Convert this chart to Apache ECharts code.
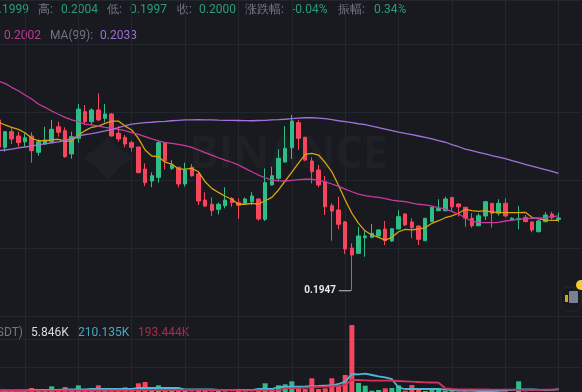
<!DOCTYPE html>
<html>
<head>
<meta charset="utf-8">
<style>
  html, body { margin: 0; padding: 0; background: #181a20; overflow: hidden; width: 582px; height: 392px; }
  /* the chart runs past the window: first candle is cut off left, volume baseline below */
  #chart { position: absolute; left: -5px; top: 0; width: 587px; height: 400px; }
</style>
<script src="https://cdn.jsdelivr.net/npm/echarts@6/dist/echarts.min.js"></script>
</head>
<body>
<div id="chart"></div>
<script>
const opens = [.20721,.2052,.20635,.20603,.20561,.20603,.20483,.20544,.20561,.20671,.20642,.20471,.20586,.20782,.20708,.20794,.20733,.20765,.20623,.20593,.20554,.20522,.2036,.20272,.20299,.20554,.20365,.20373,.2025,.20373,.20324,.20132,.20101,.20064,.2009,.20143,.20113,.20108,.2012,.2014,.1999,.20243,.20292,.20412,.20517,.20701,.20593,.20419,.20353,.20267,.2009,.20059,.19971,.19779,.1974,.19855,.19858,.19868,.19919,.19831,.19919,.20029,.19971,.19941,.19833,.19973,.20054,.20053,.20151,.20103,.20079,.19998,.19943,.20015,.20108,.20035,.20108,.19985,.19988,.20005,.19971,.19899,.19973,.20029,.1999];
const closes = [.20522,.20635,.20581,.20554,.2059,.20495,.20561,.20574,.20652,.2063,.20451,.20598,.20801,.20708,.20794,.20721,.20765,.20603,.20581,.20544,.2052,.20333,.2026,.20311,.20554,.20421,.2039,.2025,.20353,.20311,.20125,.20088,.20054,.20101,.20132,.20113,.20093,.2014,.20162,.19993,.2026,.20311,.20439,.20513,.20713,.20586,.20426,.2034,.20243,.20083,.20051,.19954,.19772,.19728,.19868,.19868,.19887,.19912,.19833,.19921,.2001,.19949,.19929,.19843,.19998,.20079,.2007,.2014,.20082,.20082,.19998,.19943,.20017,.2012,.20035,.20108,.20015,.19998,.19995,.19973,.19912,.19978,.20022,.20002,.2];
const lows = [.20507,.20488,.20544,.20524,.20524,.20407,.20458,.20537,.20549,.20598,.20443,.20436,.20554,.20684,.20684,.20713,.20704,.20598,.20561,.2052,.20488,.20331,.20235,.20226,.2026,.20358,.20353,.20226,.2023,.20304,.20096,.20083,.20015,.20027,.20071,.20083,.19993,.20101,.20096,.1998,.19978,.20239,.20274,.20407,.20434,.205,.20419,.20255,.20226,.20022,.19833,.19917,.19735,.19465,.19735,.19715,.19851,.19862,.19801,.19826,.19917,.19941,.19851,.19801,.19831,.19971,.20051,.20051,.20053,.20011,.19936,.19929,.19941,.19985,.19929,.20017,.20005,.1998,.19917,.19971,.19895,.19895,.19968,.1999,.1997];
const highs = [.20743,.2064,.2066,.20635,.20623,.2063,.20579,.20671,.20721,.20708,.20667,.20635,.20838,.20831,.20807,.20917,.20838,.20772,.20676,.2061,.20568,.20522,.20402,.20336,.20568,.20559,.20426,.20375,.20407,.20397,.2034,.20189,.20152,.20115,.20226,.20152,.20145,.20151,.2019,.20143,.20365,.20377,.20505,.20676,.20757,.20721,.20596,.20446,.2039,.20309,.20108,.20157,.19978,.19814,.19936,.19912,.19956,.19919,.19978,.19924,.20059,.20035,.19998,.19945,.2,.20081,.20138,.20157,.20154,.20108,.20081,.20035,.20035,.20125,.2011,.20138,.20145,.20005,.20088,.20022,.19974,.19985,.20044,.20046,.2004];
const ma7 = [.20706,.20684,.20667,.20652,.20627,.20586,.20568,.20568,.20574,.20579,.20566,.20566,.2061,.20642,.20667,.20676,.20696,.20713,.20713,.20676,.20647,.20586,.205,.20456,.20451,.2041,.20397,.2036,.2036,.20365,.2034,.20267,.20218,.20188,.2016,.20138,.20101,.20101,.20108,.20103,.20127,.20152,.20206,.20272,.20338,.20404,.20468,.20476,.20463,.20408,.2034,.20239,.20132,.20035,.19961,.19904,.19875,.19858,.19838,.19858,.19899,.19917,.19912,.19919,.19929,.19961,.1998,.20002,.20015,.20035,.20064,.20054,.20049,.20054,.20044,.20042,.20039,.20039,.20039,.20042,.20005,.19993,.19985,.19983,.19983];
const ma25 = [.21007,.2099,.20961,.20936,.20904,.20875,.20838,.20814,.20787,.20763,.2074,.20721,.20708,.20691,.20684,.20676,.20667,.2066,.20652,.20642,.20627,.20615,.20598,.20581,.20568,.20554,.20549,.20542,.20532,.2052,.205,.2048,.20463,.20443,.20426,.2041,.2039,.20365,.2034,.20316,.20296,.20279,.20274,.20272,.20277,.20282,.20285,.20285,.20277,.20265,.2025,.20233,.20213,.20193,.20176,.20165,.20157,.20151,.20142,.20132,.20125,.2012,.2011,.20101,.20096,.20088,.20077,.20066,.20049,.20029,.2,.19976,.19968,.19966,.19966,.19968,.19978,.19985,.1999,.19995,.19998,.2,.20002,.2001,.20015];
const ma99 = [.20495,.205,.20506,.20515,.20522,.20531,.20538,.20546,.20553,.2056,.20571,.20586,.20603,.20613,.20621,.2063,.2064,.20651,.20665,.2068,.20691,.20696,.20701,.20704,.20708,.20711,.20715,.20718,.20721,.20722,.20723,.20722,.20721,.20719,.20718,.20718,.20717,.20716,.20715,.20717,.20718,.20721,.20723,.20726,.2073,.20735,.20737,.20737,.20735,.2073,.20723,.20715,.20708,.20701,.20693,.20686,.20676,.20665,.20654,.20643,.20632,.20623,.20613,.20603,.20593,.20581,.20569,.20557,.2054,.20524,.20507,.20495,.20483,.20471,.20459,.20448,.20436,.20422,.20409,.20395,.20382,.20368,.20355,.20342,.20329];
const volumes = [150,140,150,130,130,250,150,140,310,170,285,170,346,160,170,346,214,170,160,275,203,418,464,203,346,189,178,203,150,130,170,150,130,150,130,120,150,130,120,150,418,225,346,382,489,214,214,596,214,239,596,332,714,2499,428,332,154,178,239,250,346,154,357,239,143,239,239,154,140,120,130,120,110,120,110,110,130,100,489,120,110,110,110,105,5.846];
const volMaShort = [160,160,160,160,160,178,178,178,178,178,196,196,196,196,214,214,214,214,214,214,214,250,250,250,250,250,250,250,196,196,196,196,196,178,178,178,178,178,178,214,214,214,286,286,296,296,303,314,321,332,339,393,475,750,739,760,714,668,632,571,261,214,214,214,214,214,214,189,175,160,160,160,143,143,143,150,168,185,203,200,196,190,185,180,210];
const volMaLong = [154,154,154,154,154,154,154,154,154,154,160,160,160,160,160,160,160,160,160,160,160,178,178,178,178,178,178,178,178,178,178,178,178,178,178,178,168,168,168,168,168,168,168,239,239,250,265,280,290,296,310,321,357,536,536,525,510,510,510,510,500,489,475,464,453,446,439,239,214,196,196,196,196,196,190,190,190,190,185,185,185,185,190,190,193];

const UP = "#2ebd85";
const DOWN = "#f6465d";
const GRID = "#22262d";
const EXTRA_SLOTS = 3; // empty room right of the last candle

const categories = opens.map((_, i) => String(i));
for (let i = 0; i < EXTRA_SLOTS; i++) categories.push("");

const candles = opens.map((o, i) => [o, closes[i], lows[i], highs[i]]);
const volumeBars = volumes.map((v, i) => ({
  value: v,
  itemStyle: { color: closes[i] >= opens[i] ? UP : DOWN },
}));

const text = (x, y, str, fill, extra) => ({
  type: "text",
  x,
  y,
  style: Object.assign(
    { text: str, fill, font: "12px Roboto, sans-serif", textVerticalAlign: "middle" },
    extra || {}
  ),
});

// watermark logo, drawn as diamonds around (108,158)
const diamond = (cx, cy, r) => ({
  type: "polygon",
  shape: { points: [[cx, cy - r], [cx + r, cy], [cx, cy + r], [cx - r, cy]] },
  style: { fill: "#1e2026" },
});
const chevron = (cy, dir) => ({
  type: "polygon",
  shape: {
    points: [
      [108, cy - dir * 9], [126, cy + dir * 9], [119, cy + dir * 16],
      [108, cy + dir * 5], [97, cy + dir * 16], [90, cy + dir * 9],
    ],
  },
  style: { fill: "#1e2026" },
});

const graphicItems = [
  diamond(108, 158, 6.5), diamond(91, 158, 6.5), diamond(125, 158, 6.5),
  chevron(146, 1), chevron(170, -1),
  {
    type: "text", x: 189, y: 155,
    style: { text: "BINANCE", fill: "#1e2026", font: "bold 44px 'Open Sans', sans-serif", textVerticalAlign: "middle" },
  },

  text(29, 10, "0.1999", "#2a9d75", { textAlign: "right" }),
  text(38, 10, "高:", "#6f7581"),
  text(61, 10, "0.2004", "#2a9d75"),
  text(107, 10, "低:", "#6f7581"),
  text(130, 10, "0.1997", "#2a9d75"),
  text(177, 10, "收:", "#6f7581"),
  text(199, 10, "0.2000", "#2a9d75"),
  text(245, 10, "涨跌幅:", "#6f7581"),
  text(292, 10, "-0.04%", "#2a9d75"),
  text(338, 10, "振幅:", "#6f7581"),
  text(374, 10, "0.34%", "#2a9d75"),

  text(4, 36, "0.2002", "#b93c94"),
  text(50, 36, "MA(99):", "#6f7581"),
  text(100, 36, "0.2033", "#9a70d0"),

  text(23, 333, "SDT)", "#6f7581", { textAlign: "right" }),
  text(31, 333, "5.846K", "#d8dadd"),
  text(78, 333, "210.135K", "#4aa6c2"),
  text(138, 333, "193.444K", "#ab2b50"),

  // side button
  { type: "rect", shape: { x: 561, y: 287, width: 20, height: 24, r: 6 }, style: { fill: "#181a20", stroke: "#22262d" } },
  { type: "rect", shape: { x: 569, y: 291, width: 9, height: 12, r: 1 }, style: { fill: "#79818f" } },
  { type: "rect", shape: { x: 565, y: 295, width: 3, height: 7 }, style: { fill: "#d9a60f" } },
  { type: "circle", shape: { cx: 581, cy: 285, r: 5 }, style: { fill: "#f0cf2e" } },
];

const chart = echarts.init(document.getElementById("chart"));
chart.setOption({
  backgroundColor: "#181a20",
  animation: false,
  // group is shifted back by the 5px the container hangs off the left edge
  graphic: { elements: [{ type: "group", x: 5, y: 0, children: graphicItems }] },
  grid: [
    { left: 0, right: 0, top: 0, height: 316 },
    { left: 0, right: 0, top: 316.6, height: 78.4 },
  ],
  xAxis: [0, 1].map((g) => ({
    type: "category",
    gridIndex: g,
    data: categories,
    axisLine: { show: false },
    axisTick: { show: false },
    axisLabel: { show: false },
    splitLine: {
      show: true,
      alignWithLabel: true,
      interval: (i) => i % 8 === 4,
      lineStyle: { color: GRID },
    },
  })),
  yAxis: [
    {
      type: "value",
      gridIndex: 0,
      min: 0.192794,
      max: 0.21603,
      interval: 0.005,
      axisLine: { show: false },
      axisTick: { show: false },
      axisLabel: { show: false },
      splitLine: { lineStyle: { color: GRID } },
    },
    {
      type: "value",
      gridIndex: 1,
      min: 0,
      max: 2800,
      interval: 1000,
      axisLine: { show: false },
      axisTick: { show: false },
      axisLabel: { show: false },
      splitLine: { lineStyle: { color: GRID } },
    },
  ],
  series: [
    {
      type: "candlestick",
      data: candles,
      barWidth: 4,
      itemStyle: { color: UP, color0: DOWN, borderColor: UP, borderColor0: DOWN, borderWidth: 1 },
      markPoint: {
        symbol: "rect",
        symbolSize: [12, 1],
        symbolOffset: [-7, 0],
        itemStyle: { color: "#c9ccd1" },
        label: {
          position: "left",
          distance: 3,
          formatter: "0.1947",
          color: "#e6e8ea",
          fontSize: 10,
          fontWeight: "bold",
          fontFamily: "Roboto, sans-serif",
        },
        data: [{ coord: [53, lows[53]] }],
      },
    },
    { type: "line", data: ma7, symbol: "none", lineStyle: { color: "#d9a40f", width: 1.3 }, z: 3 },
    { type: "line", data: ma25, symbol: "none", lineStyle: { color: "#c93a9f", width: 1.3 }, z: 3 },
    { type: "line", data: ma99, symbol: "none", lineStyle: { color: "#a670dc", width: 1.3 }, z: 3 },
    { type: "bar", xAxisIndex: 1, yAxisIndex: 1, data: volumeBars, barWidth: 5 },
    { type: "line", xAxisIndex: 1, yAxisIndex: 1, data: volMaShort, symbol: "none", lineStyle: { color: "#4fb8d6", width: 1.8 }, z: 3 },
    { type: "line", xAxisIndex: 1, yAxisIndex: 1, data: volMaLong, symbol: "none", lineStyle: { color: "#d2335f", width: 1.8 }, z: 3 },
  ],
});
</script>
</body>
</html>
